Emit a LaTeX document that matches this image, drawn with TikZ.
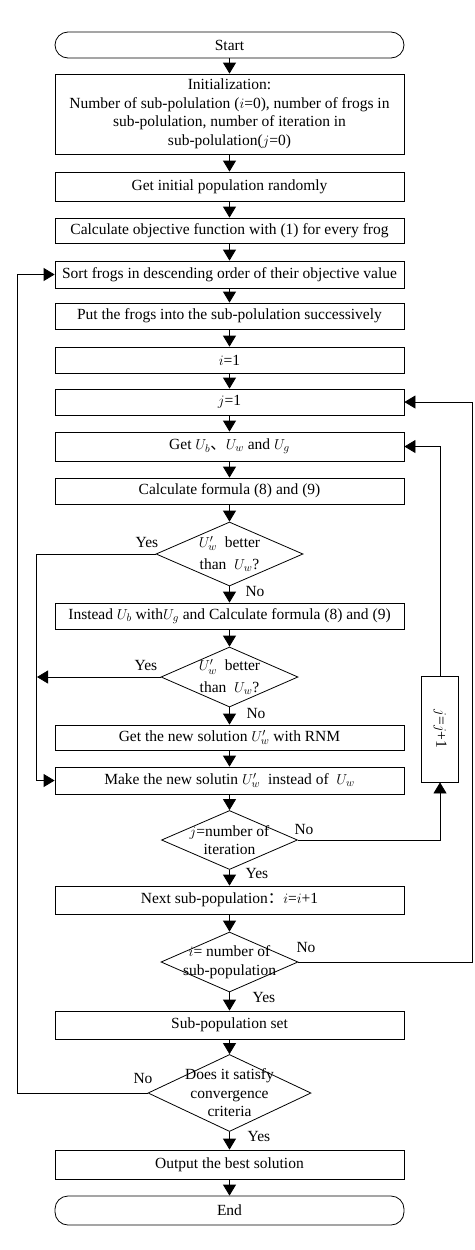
\documentclass[tikz,border=0pt]{standalone}
\usepackage{fontspec}
\setmainfont{Liberation Serif}
\newfontfamily\cjk{Noto Sans CJK SC}
\usetikzlibrary{arrows.meta, shapes.geometric}

\begin{document}
\begin{tikzpicture}[
    x=1pt, y=-1pt,
    every node/.style={font=\fontsize{15.5}{18.5}\selectfont},
    box/.style={draw, line width=0.8pt, minimum width=349pt, inner sep=0pt},
    term/.style={box, rounded corners=13pt},
    dia/.style={draw, diamond, line width=0.8pt, inner sep=0pt},
    lbl/.style={inner sep=0pt},
    arr/.style={line width=0.8pt, -{Triangle[width=13pt, length=11pt]}}
  ]
  \useasboundingbox (0,0) rectangle (474,1250);

  % main column
  \node[term, minimum height=26pt] (start) at (229.5,45) {Start};
  \node[box, minimum height=80pt, align=center] (init) at (229.5,114)
    {Initialization:\\ Number of sub-polulation ($i$=0), number of frogs in\\
     sub-polulation, number of iteration in\\ sub-polulation($j$=0)};
  \node[box, minimum height=29pt] (getpop) at (229.5,186.5) {Get initial population randomly};
  \node[box, minimum height=25pt] (calcobj) at (229.5,230.5) {Calculate objective function with (1) for every frog};
  \node[box, minimum height=27pt] (sort) at (229.5,274.5) {Sort frogs in descending order of their objective value};
  \node[box, minimum height=26pt] (put) at (229.5,316) {Put the frogs into the sub-polulation successively};
  \node[box, minimum height=26pt] (ione) at (229.5,360) {$i$=1};
  \node[box, minimum height=26pt] (jone) at (229.5,402) {$j$=1};
  \node[box, minimum height=29pt] (getu) at (229.5,446.5) {Get $U_b${\cjk 、}$U_w$ and $U_g$};
  \node[box, minimum height=26pt] (calcf) at (229.5,491) {Calculate formula (8) and (9)};
  \node[dia, minimum width=147pt, minimum height=64pt] (better1) at (229.5,554) {};
  \node[box, minimum height=26pt] (instead) at (229.5,616) {Instead $U_b$ with$U_g$ and Calculate formula (8) and (9)};
  \node[dia, minimum width=137pt, minimum height=60pt] (better2) at (229.5,677) {};
  \node[box, minimum height=25pt] (newsol) at (229.5,737.5) {Get the new solution $U'_w$ with RNM};
  \node[box, minimum height=27pt] (make) at (229.5,780.5) {Make the new solutin $U'_w$\enspace instead of\enspace $U_w$};
  \node[dia, minimum width=136pt, minimum height=59pt] (jend) at (229.5,840) {};
  \node[box, minimum height=28pt] (next) at (229.5,900) {Next sub-population{\cjk ：}$i$=$i$+1};
  \node[dia, minimum width=137pt, minimum height=60pt] (iend) at (229.5,962) {};
  \node[box, minimum height=28pt] (subset) at (229.5,1025) {Sub-population set};
  \node[dia, minimum width=163pt, minimum height=77pt] (conv) at (229.5,1093) {};
  \node[box, minimum height=29pt] (output) at (229.5,1164.5) {Output the best solution};
  \node[term, minimum height=29pt] (stop) at (229.5,1210.5) {End};

  % diamond texts
  \node[align=center] (better1txt) at (229.5,554) {$U'_w$\enspace better\\[4pt] than\enspace $U_w$?};
  \node[align=center] (better2txt) at (229.5,677) {$U'_w$\enspace better\\[3pt] than\enspace $U_w$?};
  \node[align=center] (jendtxt) at (229.5,840) {$j$=number of\\ iteration};
  \node[align=center] (iendtxt) at (229.5,962) {$i$= number of\\ sub-population};
  \node[align=center] (convtxt) at (229.5,1093) {Does it satisfy\\ convergence\\ criteria};

  % j=j+1 box on the right
  \node[box, minimum width=36.6pt, minimum height=106pt] (jinc) at (440,729) {};
  \node[rotate=-90] (jinctxt) at (jinc) {$j$=$j$+1};

  % straight flow
  \foreach \a/\b in {start/init, init/getpop, getpop/calcobj, calcobj/sort, sort/put,
      put/ione, ione/jone, jone/getu, getu/calcf, calcf/better1, better1/instead,
      instead/better2, better2/newsol, newsol/make, make/jend, jend/next, next/iend,
      iend/subset, subset/conv, conv/output, output/stop}
    \draw[arr] (\a) -- (\b);

  % loops
  \draw[arr] (conv.west) -- ++(-130,0) |- (sort.west);
  \draw[arr] (better1.west) -- ++(-119,0) |- (make.west);
  \coordinate (yesjoin) at (37,677);
  \draw[arr] (better2.west) -- (yesjoin);
  \draw[arr] (jend.east) -| (jinc.south);
  \draw[arr] (jinc.north) |- (getu.east);
  \draw[arr] (iend.east) -- ++(174,0) |- (jone.east);

  % yes / no
  \node[lbl] (yes1) at (147,542) {Yes};
  \node[lbl] (no1) at (255,591) {No};
  \node[lbl] (yes2) at (146,665) {Yes};
  \node[lbl] (no2) at (256,713) {No};
  \node[lbl] (no3) at (304,829) {No};
  \node[lbl] (yes3) at (257,873) {Yes};
  \node[lbl] (no4) at (306,947) {No};
  \node[lbl] (yes4) at (264,997) {Yes};
  \node[lbl] (no5) at (143,1078) {No};
  \node[lbl] (yes5) at (259,1136) {Yes};
\end{tikzpicture}
\end{document}
